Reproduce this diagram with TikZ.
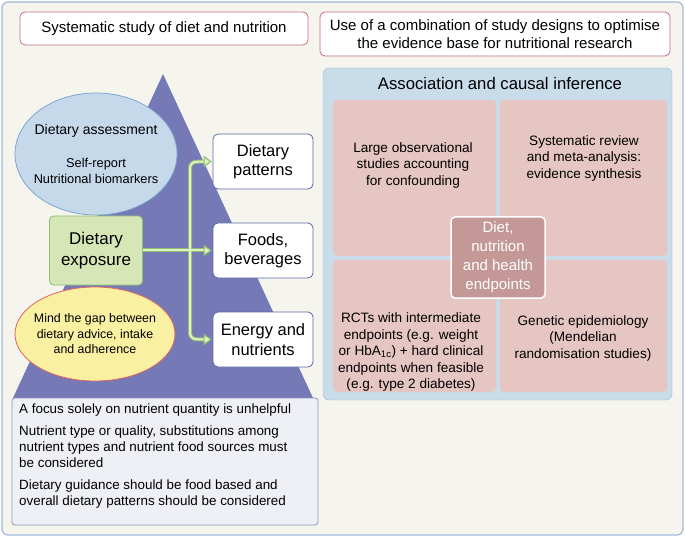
\documentclass[tikz,border=0pt]{standalone}
\usepackage{fontspec}
\setmainfont{Liberation Sans}
\definecolor{bg}{HTML}{F5F5EE}
\definecolor{frameb}{HTML}{9DB8D8}
\definecolor{pinkb}{HTML}{C86A88}
\definecolor{panel}{HTML}{C9DCEA}
\definecolor{quad}{HTML}{E6C6C2}
\definecolor{cent}{HTML}{C49896}
\definecolor{tri}{HTML}{7579B6}
\definecolor{ellb}{HTML}{C6D9EB}
\definecolor{ellbs}{HTML}{7EA6D2}
\definecolor{grn}{HTML}{D7E6B6}
\definecolor{grns}{HTML}{8CC070}
\definecolor{yel}{HTML}{FAF0A2}
\definecolor{yels}{HTML}{E06464}
\definecolor{boxs}{HTML}{5A68A8}
\definecolor{arrf}{HTML}{E4F0C4}
\definecolor{bot}{HTML}{EEF0F6}
\tikzset{
 topbox/.style={draw=pinkb,fill=white,rounded corners=5pt,line width=0.8pt,font=\fontsize{15}{18}\selectfont,align=center},
 quadbox/.style={fill=quad,rounded corners=4pt},
 qtext/.style={font=\fontsize{13.6}{16.5}\selectfont,align=center},
 rbox/.style={draw=boxs,fill=white,rounded corners=5pt,line width=0.8pt,minimum width=100pt,minimum height=55pt,font=\fontsize{16.5}{19.5}\selectfont,align=center,inner sep=0pt},
 garrow/.style={draw=grns,line width=4pt},
 garrowin/.style={draw=arrf,line width=2pt},
}
\begin{document}
\begin{tikzpicture}[x=1pt,y=-1pt]
\useasboundingbox (0,0) rectangle (685,537);
\draw[fill=bg,draw=frameb,line width=1.2pt,rounded corners=6pt] (2,2) rectangle (683,535);
% top boxes
\node[topbox,minimum width=288pt,minimum height=33pt] (t1) at (164,28.5) {Systematic study of diet and nutrition};
\node[topbox,minimum width=350pt,minimum height=44pt,inner sep=1pt] (t2) at (495,34) {Use of a combination of study designs to optimise\\the evidence base for nutritional research};
% right panel
\draw[fill=panel,draw=frameb,rounded corners=6pt] (323,68) rectangle (672,400);
\node[font=\fontsize{16.7}{19}\selectfont] (ti) at (500,84) {Association and causal inference};
\fill[quadbox] (333,100) rectangle (496,256);
\fill[quadbox] (500,100) rectangle (667,256);
\fill[quadbox] (333,260) rectangle (496,392);
\fill[quadbox] (500,260) rectangle (667,392);
\node[qtext] (q1) at (413,165) {Large observational\\studies accounting\\for confounding};
\node[qtext] (q2) at (584,158) {Systematic review\\and meta-analysis:\\evidence synthesis};
\node[qtext] (q3) at (411,352) {RCTs with intermediate\\endpoints (e.g. weight\\or HbA\textsubscript{1c}) + hard clinical\\endpoints when feasible\\(e.g. type 2 diabetes)};
\node[qtext] (q4) at (583,338) {Genetic epidemiology\\(Mendelian\\randomisation studies)};
\draw[fill=cent,draw=white,line width=1.5pt,rounded corners=4pt] (451,217) rectangle (545,298);
\node[qtext,text=white,font=\fontsize{15}{19}\selectfont] (c) at (498,257.5) {Diet,\\nutrition\\and health\\endpoints};
% triangle
\fill[tri] (163,74) -- (313,398) -- (13,398) -- cycle;
% ellipses
\draw[fill=ellb,draw=ellbs,line width=0.8pt] (96,154) ellipse (81pt and 61pt);
\node[font=\fontsize{14}{17}\selectfont] (da) at (96,131) {Dietary assessment};
\node[font=\fontsize{12.8}{16}\selectfont,align=center] (sr) at (96,171) {Self-report\\Nutritional biomarkers};
\draw[fill=yel,draw=yels,line width=0.8pt] (95,334) ellipse (80pt and 47pt);
\node[font=\fontsize{12.4}{15.5}\selectfont,align=center] (mg) at (95,334) {Mind the gap between\\dietary advice, intake\\and adherence};
% green box
\node[draw=grns,fill=grn,rounded corners=4pt,line width=0.8pt,minimum width=93pt,minimum height=69pt,font=\fontsize{17}{21}\selectfont,align=center] (de) at (96,250.5) {Dietary\\exposure};
% right boxes
\node[rbox] (dp) at (263,161.5) {Dietary\\patterns};
\node[rbox] (fb) at (263,250.5) {Foods,\\beverages};
\node[rbox] (en) at (263,339.5) {Energy and\\nutrients};
% arrows
\coordinate (v1) at (190,162);
\coordinate (v2) at (190,339);
\foreach \s in {garrow,garrowin}{
 \draw[\s,rounded corners=6pt] ([xshift=-8pt]dp.west) -- (v1) -- (v2) -- ([xshift=-8pt]en.west);
 \draw[\s] (de.east) -- ([xshift=-8pt]fb.west);
}
\foreach \b in {dp,fb,en}{
 \fill[grns] ([xshift=-9pt,yshift=-6pt]\b.west) -- ([xshift=-1pt]\b.west) -- ([xshift=-9pt,yshift=6pt]\b.west) -- cycle;
 \fill[arrf] ([xshift=-8pt,yshift=-3.5pt]\b.west) -- ([xshift=-3pt]\b.west) -- ([xshift=-8pt,yshift=3.5pt]\b.west) -- cycle;
}
% bottom box
\draw[fill=bot,draw=boxs!70,line width=0.8pt,rounded corners=3pt] (12,398) rectangle (318,525);
\node[anchor=north west,align=left,font=\fontsize{13.4}{16}\selectfont,inner sep=0pt] (bt) at (19,404) {A focus solely on nutrient quantity is unhelpful\\[6pt]
Nutrient type or quality, substitutions among\\nutrient types and nutrient food sources must\\be considered\\[6pt]
Dietary guidance should be food based and\\overall dietary patterns should be considered};
\end{tikzpicture}
\end{document}
